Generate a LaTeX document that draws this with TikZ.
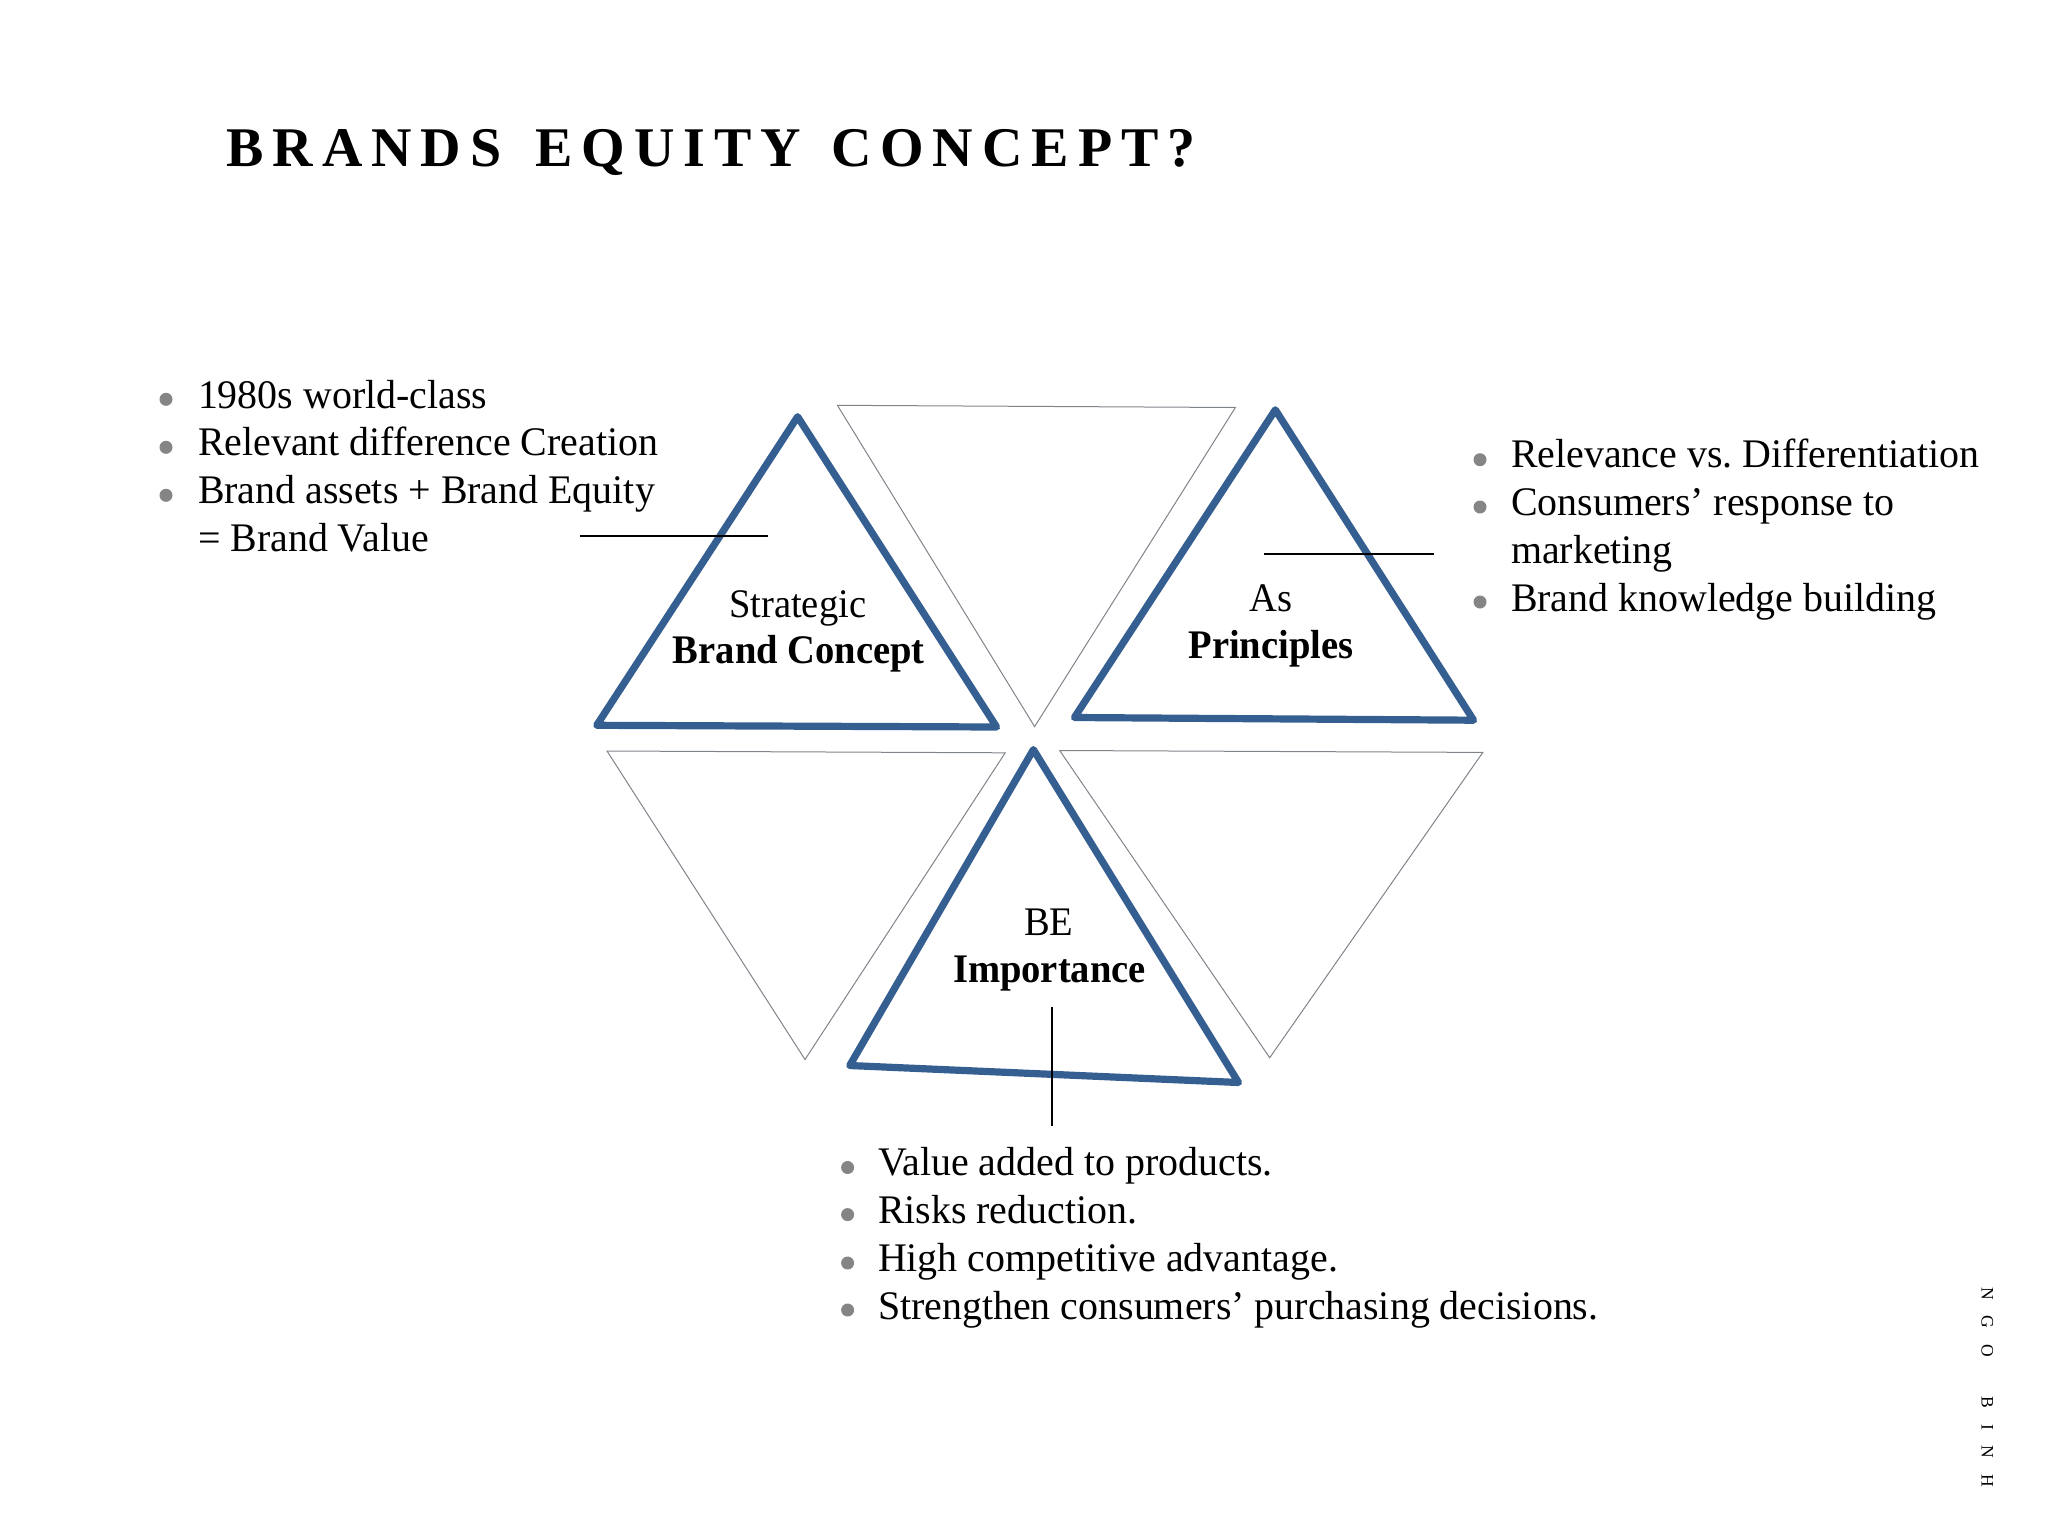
\documentclass[tikz,border=0pt]{standalone}
\usepackage{fontspec}
\setmainfont{Liberation Serif}
\newfontfamily\titlefont[LetterSpace=16,Ligatures=NoCommon]{Liberation Serif}
\newfontfamily\signfont[LetterSpace=90]{Liberation Serif}
\newfontfamily\listfont[FakeStretch=0.983]{Liberation Serif}
\newfontfamily\labelfont[FakeStretch=0.95]{Liberation Serif}
\frenchspacing
\definecolor{triblue}{HTML}{365F91}
\definecolor{trigrey}{HTML}{7F848B}
\definecolor{dotgrey}{HTML}{858585}
\tikzset{
  bodytext/.style={inner sep=0pt,outer sep=0pt,anchor=base west,font=\listfont\fontsize{20.3}{24}\selectfont,text=black},
  midtext/.style={inner sep=0pt,outer sep=0pt,anchor=base,font=\labelfont\fontsize{20.3}{24}\selectfont,text=black},
  midbold/.style={midtext,font=\labelfont\fontsize{20.3}{24}\selectfont\bfseries},
  dot/.style={circle,fill=dotgrey,draw=none,minimum size=6.5pt,inner sep=0pt},
  strongtri/.style={draw=triblue,line width=3.6pt,line join=round},
  thintri/.style={draw=trigrey,line width=0.5pt,line join=miter},
  leader/.style={draw=black,line width=1pt}
}
\begin{document}
\begin{tikzpicture}[x=0.5pt,y=-0.5pt]
\useasboundingbox (0,0) rectangle (2048,1536);
% thin triangles
\draw[thintri] (837.4,405.3) -- (1235.4,407.5) -- (1034.6,726.6) -- cycle;
\draw[thintri] (607,751) -- (1005.2,752.8) -- (805,1059.5) -- cycle;
\draw[thintri] (1059.7,750.5) -- (1482.8,752.4) -- (1269.7,1057.7) -- cycle;
% strong triangles
\draw[strongtri] (797.6,416.7) -- (596.7,725.3) -- (996.6,727) -- cycle;
\draw[strongtri] (1275.3,409.8) -- (1074.4,717.5) -- (1473.6,720.2) -- cycle;
\draw[strongtri] (1033.4,749.6) -- (849.7,1065.5) -- (1238.5,1082.5) -- cycle;
% leaders
\coordinate (la) at (580,536); \coordinate (lb) at (768,536);
\coordinate (ra) at (1264,553.6); \coordinate (rb) at (1434,553.6);
\coordinate (ba) at (1051.5,1006.7); \coordinate (bb) at (1051.5,1126);
\draw[leader] (la) -- (lb);
\draw[leader] (ra) -- (rb);
\draw[leader] (ba) -- (bb);
% title
\node[inner sep=0pt,anchor=base west,font=\titlefont\fontsize{28}{32}\selectfont\bfseries] (title) at (226,166) {BRANDS\hspace{5.5pt} EQUITY\hspace{3.5pt} CONCEPT?};
% triangle labels
\node[midtext] (s1) at (797.6,617.8) {Strategic};
\node[midbold] (s2) at (798.8,663) {Brand Concept};
\node[midtext] (p1) at (1271,611) {As};
\node[midbold] (p2) at (1271,658) {Principles};
\node[midtext] (i1) at (1048.7,935.5) {BE};
\node[midbold] (i2) at (1049.5,982.5) {Importance};
% left list
\node[dot] (ld1) at (166,399.3) {};
\node[dot] (ld2) at (166,447.3) {};
\node[dot] (ld3) at (166,495.3) {};
\node[bodytext] (lt1) at (198,408) {1980s world-class};
\node[bodytext] (lt2) at (198,455.3) {Relevant difference Creation};
\node[bodytext] (lt3) at (198,503.3) {Brand assets + Brand Equity};
\node[bodytext] (lt4) at (198,551) {= Brand Value};
% right list
\node[dot] (rd1) at (1480,459.7) {};
\node[dot] (rd2) at (1480,507) {};
\node[dot] (rd3) at (1480,602) {};
\node[bodytext] (rt1) at (1511,467.5) {Relevance vs. Differentiation};
\node[bodytext] (rt2) at (1511,515.8) {Consumers’ response to};
\node[bodytext] (rt3) at (1511,563) {marketing};
\node[bodytext] (rt4) at (1511,611) {Brand knowledge building};
% bottom list
\node[dot] (bd1) at (847.6,1167.5) {};
\node[dot] (bd2) at (847.6,1214.6) {};
\node[dot] (bd3) at (847.6,1263) {};
\node[dot] (bd4) at (847.6,1310) {};
\node[bodytext] (bt1) at (878,1175.4) {Value added to products.};
\node[bodytext] (bt2) at (878,1223.7) {Risks reduction.};
\node[bodytext] (bt3) at (878,1271.5) {High competitive advantage.};
\node[bodytext] (bt4) at (878,1319) {Strengthen consumers’ purchasing decisions.};
% side signature
\node[inner sep=0pt,anchor=base west,rotate=-90,font=\signfont\fontsize{8.75}{10}\selectfont] (sign) at (1981.7,1287) {NGO\hspace{10pt} BINH};
\end{tikzpicture}
\end{document}
